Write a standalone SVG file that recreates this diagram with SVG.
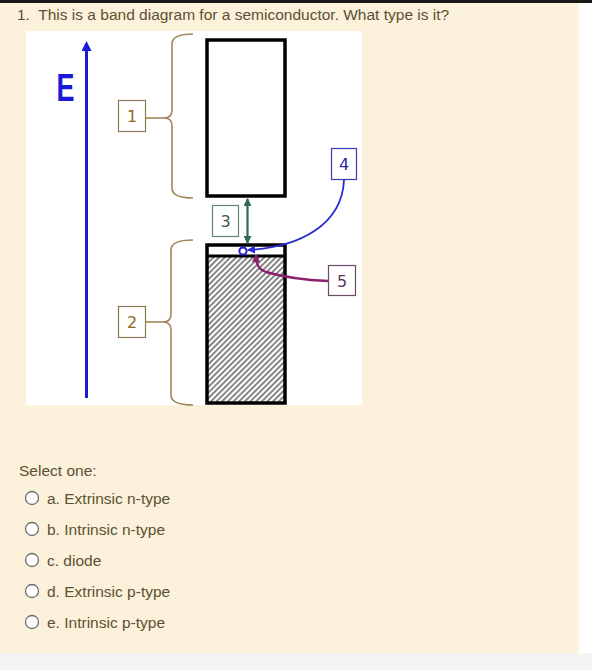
<svg xmlns="http://www.w3.org/2000/svg" width="592" height="670" viewBox="0 0 592 670">
<style>
  .txt { font-family: "Liberation Sans", Arial, sans-serif; font-size: 15.5px; fill: #5b5232; }
  .radio { fill: #ffffff; stroke: #6e6e6e; stroke-width: 1.3; }
  .brace { fill: none; stroke: #a4865c; stroke-width: 1.6; }
  .lbl { font-family: "DejaVu Sans", "Liberation Sans", sans-serif; font-size: 16px; text-anchor: middle; }
  .band { stroke: #000000; stroke-width: 3.5; }
</style>
<defs>
  <pattern id="hatch" patternUnits="userSpaceOnUse" width="4" height="4" patternTransform="rotate(45)">
    <rect width="4" height="4" fill="#ffffff"/>
    <rect x="0" y="0" width="1.8" height="4" fill="#7a7a7a"/>
  </pattern>
  <marker id="arrBlueUp" markerWidth="10" markerHeight="10" refX="5" refY="5" orient="auto" markerUnits="userSpaceOnUse">
    <path d="M0,0 L10,5 L0,10 z" fill="#1a1ad6"/>
  </marker>
  <marker id="arrGreen" markerWidth="8" markerHeight="8" refX="7" refY="4" orient="auto-start-reverse" markerUnits="userSpaceOnUse">
    <path d="M0,0 L8,4 L0,8 z" fill="#2f6b50"/>
  </marker>
  <marker id="arrBlue" markerWidth="8" markerHeight="8" refX="7" refY="4" orient="auto" markerUnits="userSpaceOnUse">
    <path d="M0,0 L8,4 L0,8 z" fill="#2a2ad0"/>
  </marker>
  <marker id="arrPurple" markerWidth="8" markerHeight="8" refX="7" refY="4" orient="auto" markerUnits="userSpaceOnUse">
    <path d="M0,0 L8,4 L0,8 z" fill="#8c1f6e"/>
  </marker>
</defs>

<!-- page background -->
<rect x="0" y="0" width="592" height="670" fill="#ffffff"/>
<rect x="0" y="653" width="592" height="17" fill="#f4f4f4"/>
<rect x="0" y="3" width="579" height="650" fill="#fcf1db"/>
<rect x="0" y="0" width="592" height="3" fill="#1c1a18"/>

<text class="txt" x="17" y="20" xml:space="preserve">1.  This is a band diagram for a semiconductor. What type is it?</text>

<!-- white diagram area -->
<rect x="26" y="31" width="336" height="374" fill="#ffffff"/>

<g id="energy-axis">
  <line x1="86.5" y1="398" x2="86.5" y2="46" stroke="#1a1ad6" stroke-width="3" marker-end="url(#arrBlueUp)"/>
  <text x="65.5" y="101" font-family="Liberation Sans, sans-serif" font-weight="bold" font-size="39" fill="#1a1ad6" text-anchor="middle" textLength="18" lengthAdjust="spacingAndGlyphs">E</text>
</g>

<g id="conduction-band">
  <rect class="band" x="207" y="40" width="78" height="156" fill="#ffffff"/>
</g>

<g id="valence-band">
  <rect x="207" y="256" width="78" height="147" fill="url(#hatch)"/>
  <rect x="207" y="245" width="78" height="11" fill="#ffffff"/>
  <rect class="band" x="207" y="245" width="78" height="158" fill="none"/>
  <line x1="207" y1="256" x2="285" y2="256" stroke="#000" stroke-width="3"/>
</g>

<g id="label-1">
  <rect x="118.5" y="100.5" width="27" height="31" fill="#fff" stroke="#8a7a52" stroke-width="1.2"/>
  <text class="lbl" x="132" y="122" fill="#8a6a1c">1</text>
</g>
<g id="label-2">
  <rect x="118.5" y="306.5" width="27" height="31" fill="#fff" stroke="#8a7a52" stroke-width="1.2"/>
  <text class="lbl" x="132" y="328" fill="#8a6a1c">2</text>
</g>
<g id="label-3">
  <rect x="212.5" y="205.5" width="26" height="31" fill="#fff" stroke="#5f8576" stroke-width="1.2"/>
  <text class="lbl" x="225.5" y="227" fill="#3d5a50">3</text>
</g>
<g id="label-4">
  <rect x="331.5" y="148.5" width="25" height="31" fill="#fff" stroke="#3b3bb0" stroke-width="1.2"/>
  <text class="lbl" x="344" y="170" fill="#2b2ba0">4</text>
</g>
<g id="label-5">
  <rect x="328.5" y="265.5" width="27" height="30" fill="#fff" stroke="#6b4a66" stroke-width="1.2"/>
  <text class="lbl" x="342" y="287" fill="#5a3a56">5</text>
</g>

<g id="connectors">
  <!-- brace 1 -->
  <path class="brace" d="M193,34 Q172,34 172,44 L172,110 Q172,118 164,118 Q172,118 172,126 L172,188 Q172,198 193,198"/>
  <line class="brace" x1="146" y1="118" x2="164" y2="118"/>
  <!-- brace 2 -->
  <path class="brace" d="M193,240 Q171,240 171,250 L171,314 Q171,322 163,322 Q171,322 171,330 L171,395 Q171,405 193,405"/>
  <line class="brace" x1="146" y1="322" x2="163" y2="322"/>
  <!-- band gap arrow -->
  <line x1="247.5" y1="199" x2="247.5" y2="243" stroke="#2f6b50" stroke-width="2.2" marker-start="url(#arrGreen)" marker-end="url(#arrGreen)"/>
  <!-- hole / electron -->
  <circle cx="243" cy="251" r="3.6" fill="#ffffff" stroke="#1a1ad6" stroke-width="2"/>
  <path d="M344,180 C342,225 300,247 248,250" fill="none" stroke="#2a2ad0" stroke-width="1.8" marker-end="url(#arrBlue)"/>
  <path d="M328,281 C300,280 280,276 266,272 C258,269 256,264 256,255" fill="none" stroke="#8c1f6e" stroke-width="2.4" marker-end="url(#arrPurple)"/>
</g>

<text class="txt" x="19" y="476">Select one:</text>
<g id="options">
  <circle class="radio" cx="32" cy="498" r="6.5"/>
  <text class="txt" x="47" y="503.5">a. Extrinsic n-type</text>
  <circle class="radio" cx="32" cy="529" r="6.5"/>
  <text class="txt" x="47" y="534.5">b. Intrinsic n-type</text>
  <circle class="radio" cx="32" cy="560" r="6.5"/>
  <text class="txt" x="47" y="565.5">c. diode</text>
  <circle class="radio" cx="32" cy="591" r="6.5"/>
  <text class="txt" x="47" y="596.5">d. Extrinsic p-type</text>
  <circle class="radio" cx="32" cy="622" r="6.5"/>
  <text class="txt" x="47" y="627.5">e. Intrinsic p-type</text>
</g>
</svg>
